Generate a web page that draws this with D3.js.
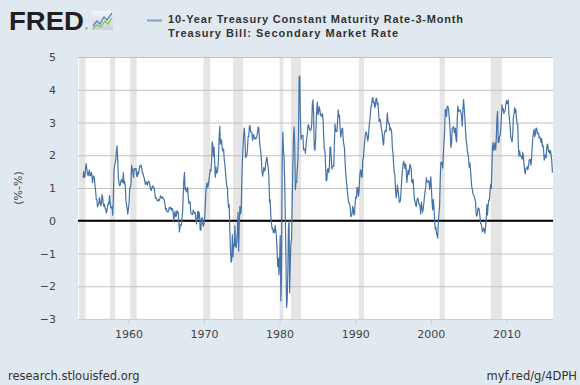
<!DOCTYPE html>
<html>
<head>
<meta charset="utf-8">
<script src="https://cdn.jsdelivr.net/npm/d3@7"></script>
<style>
  body { margin: 0; background: #e1e9f0; }
  svg { display: block; }
</style>
</head>
<body>
<div id="chart-area"></div>
<script>
// monthly values, first month = Jan 1954
const firstMonth = "1954-01"
const spread = [
  1.30, 1.50, 1.34, 1.33, 1.61, 1.74, 1.58, 1.44, 1.37, 1.45, 1.55, 1.37, // 1954
  1.38, 1.48, 1.40, 1.16, 1.31, 1.37, 1.30, 1.07, 0.90, 0.65, 0.65, 0.42,
  0.49, 0.52, 0.71, 0.58, 0.46, 0.51, 0.80, 0.73, 0.54, 0.44, 0.50, 0.38,
  0.35, 0.24, 0.33, 0.42, 0.54, 0.51, 0.77, 0.56, 0.39, 0.39, 0.43, 0.17,
  0.65, 1.51, 1.68, 1.75, 1.86, 2.14, 2.29, 1.85, 1.32, 1.17, 1.07, 1.09,
  1.20, 1.26, 1.19, 1.17, 1.47, 1.13, 1.20, 1.05, 0.64, 0.48, 0.38, 0.20,
  0.37, 0.53, 0.94, 1.05, 1.06, 1.69, 1.60, 1.50, 1.32, 1.59, 1.56, 1.59, // 1960
  1.60, 1.36, 1.35, 1.49, 1.42, 1.55, 1.68, 1.65, 1.70, 1.62, 1.46, 1.46,
  1.36, 1.31, 1.21, 1.11, 1.18, 1.18, 1.09, 1.16, 1.20, 1.19, 1.09, 0.99,
  0.92, 1.00, 1.04, 1.07, 1.00, 1.00, 0.84, 0.68, 0.70, 0.66, 0.60, 0.61,
  0.65, 0.62, 0.68, 0.76, 0.72, 0.69, 0.73, 0.69, 0.67, 0.62, 0.51, 0.34,
  0.38, 0.28, 0.28, 0.27, 0.32, 0.41, 0.36, 0.41, 0.37, 0.32, 0.37, 0.26,
  0.01, 0.18, 0.29, 0.13, 0.14, 0.31, 0.24, 0.27, 0.01, -0.34, -0.16, -0.12,
  -0.14, 0.07, 0.28, 0.75, 1.25, 1.48, 0.95, 1.01, 0.88, 0.92, 1.02, 0.73,
  0.53, 0.58, 0.57, 0.26, 0.21, 0.20, 0.19, 0.33, 0.27, 0.23, 0.25, 0.07,
  -0.10, 0.07, 0.28, 0.06, 0.28, 0.13, -0.28, -0.29, 0.07, 0.10, -0.10, -0.17,
  -0.08, 0.11, 0.44, 0.88, 1.07, 1.16, 1.01, 1.12, 1.27, 1.42, 1.56, 1.52, // 1970
  1.80, 2.41, 2.32, 1.97, 2.25, 1.77, 1.33, 1.64, 1.45, 1.47, 1.59, 1.92,
  2.57, 2.88, 2.34, 2.48, 2.44, 2.20, 2.13, 2.19, 1.89, 1.74, 1.50, 1.29,
  1.05, 1.04, 0.62, 0.41, 0.49, -0.29, -0.88, -1.27, -1.20, -0.43, -1.10, -0.71,
  -0.78, -0.16, -0.75, -0.82, -0.65, -0.36, 0.26, -0.92, -0.02, 0.44, 0.21, 0.28,
  1.24, 1.89, 2.24, 2.62, 2.83, 2.52, 1.93, 1.96, 2.01, 2.18, 2.57, 2.56,
  2.87, 2.91, 2.73, 2.70, 2.70, 2.45, 2.60, 2.63, 2.51, 2.49, 2.54, 2.52,
  2.59, 2.72, 2.86, 2.83, 2.50, 2.26, 2.14, 1.91, 1.53, 1.36, 1.48, 1.62,
  1.52, 1.58, 1.75, 1.86, 1.94, 1.73, 1.63, 1.33, 0.57, 0.65, 0.17, -0.07,
  -0.25, -0.22, -0.36, -0.28, -0.36, -0.15, -0.29, -0.49, -0.93, -1.40, -1.14, -1.65,
  -1.20, -0.45, -2.45, -1.73, 1.60, 2.71, 2.19, 1.97, 1.24, 0.13, -1.05, -2.65, // 1980
  -2.45, -1.60, -0.24, -0.01, -2.20, -1.26, -0.67, -0.57, 0.62, 1.61, 2.53, 2.87,
  2.31, 0.95, 1.18, 1.17, 1.53, 1.83, 2.60, 4.38, 4.42, 3.20, 2.48, 2.60,
  2.60, 2.61, 2.16, 2.19, 2.19, 2.06, 2.30, 2.51, 2.65, 2.90, 2.93, 2.83,
  2.77, 2.75, 2.80, 2.94, 3.58, 3.69, 3.24, 2.25, 2.15, 2.42, 2.96, 3.44,
  3.62, 3.24, 3.34, 3.48, 3.37, 3.21, 3.23, 3.19, 3.27, 3.08, 2.54, 2.16,
  2.12, 1.64, 1.22, 1.24, 1.56, 1.59, 1.47, 1.64, 2.24, 2.25, 1.90, 1.58,
  1.65, 1.66, 1.66, 2.38, 2.95, 2.73, 2.76, 2.72, 3.02, 3.39, 3.17, 3.22,
  2.86, 2.55, 2.67, 2.81, 2.83, 2.46, 2.33, 2.20, 1.74, 1.45, 1.20, 1.04,
  0.82, 0.64, 0.54, 0.53, 0.43, 0.13, 0.14, 0.21, 0.44, 0.37, 0.18, 0.21,
  0.57, 0.73, 0.69, 1.02, 1.02, 0.75, 0.85, 1.30, 1.53, 1.55, 1.33, 1.34, // 1990
  1.87, 1.91, 2.20, 2.39, 2.61, 2.71, 2.69, 2.57, 2.43, 2.54, 2.86, 3.02,
  3.23, 3.50, 3.50, 3.73, 3.76, 3.60, 3.63, 3.46, 3.51, 3.73, 3.74, 3.55,
  3.60, 3.33, 3.03, 3.10, 3.08, 2.89, 2.77, 2.66, 2.41, 2.31, 2.62, 2.71,
  2.77, 2.72, 2.98, 3.29, 3.04, 2.96, 2.97, 2.76, 2.84, 2.79, 2.67, 2.21,
  2.07, 1.70, 1.47, 1.41, 0.96, 0.70, 0.86, 1.09, 0.92, 0.76, 0.57, 0.57,
  0.65, 0.98, 1.31, 1.56, 1.72, 1.82, 1.72, 1.59, 1.74, 1.54, 1.17, 1.39,
  1.55, 1.41, 1.55, 1.73, 1.66, 1.56, 1.17, 1.16, 1.26, 0.91, 0.67, 0.58,
  0.47, 0.44, 0.62, 0.69, 0.65, 0.52, 0.50, 0.44, 0.20, 0.57, 0.42, 0.26,
  0.38, 0.55, 0.75, 0.90, 1.03, 1.31, 1.19, 1.18, 1.19, 1.23, 0.96, 1.08,
  1.34, 0.97, 0.57, 0.33, 0.65, 0.41, 0.09, -0.26, -0.20, -0.37, -0.45, -0.53, // 2000
  0.01, 0.22, 0.47, 1.27, 1.77, 1.79, 1.73, 1.61, 2.09, 2.41, 2.78, 3.40,
  3.39, 3.18, 3.49, 3.49, 3.43, 3.23, 2.97, 2.64, 2.24, 2.36, 2.82, 2.84,
  2.88, 2.73, 2.68, 2.83, 2.50, 2.41, 3.08, 3.50, 3.33, 3.37, 3.37, 3.37,
  3.27, 3.15, 2.89, 3.41, 3.70, 3.46, 3.17, 2.80, 2.48, 2.34, 2.12, 2.04,
  1.89, 1.63, 1.76, 1.56, 1.30, 1.03, 0.96, 0.82, 0.78, 0.75, 0.66, 0.58,
  0.18, 0.14, 0.21, 0.39, 0.39, 0.32, 0.14, -0.08, -0.09, -0.19, -0.34, -0.29,
  -0.22, -0.31, -0.38, -0.18, 0.02, 0.49, 0.18, 0.47, 0.63, 0.63, 0.88, 1.10,
  0.99, 1.62, 2.25, 2.39, 2.15, 2.24, 2.38, 2.17, 2.56, 3.14, 3.34, 2.39,
  2.39, 2.57, 2.61, 2.77, 3.11, 3.54, 3.38, 3.42, 3.28, 3.32, 3.35, 3.54,
  3.67, 3.58, 3.58, 3.69, 3.26, 3.08, 2.85, 2.54, 2.50, 2.41, 2.62, 3.15, // 2010
  3.24, 3.45, 3.31, 3.40, 3.13, 2.96, 2.96, 2.28, 1.97, 2.13, 2.00, 1.97,
  1.94, 1.88, 2.09, 1.97, 1.71, 1.53, 1.43, 1.58, 1.61, 1.65, 1.56, 1.65,
  1.84, 1.88, 1.87, 1.70, 1.89, 2.25, 2.54, 2.70, 2.79, 2.57, 2.65, 2.83,
  2.82, 2.66, 2.67, 2.68, 2.53, 2.56, 2.51, 2.39, 2.51, 2.28, 2.31, 2.18,
  1.85, 1.96, 2.01, 1.92, 2.18, 2.34, 2.29, 2.10, 2.15, 2.05, 2.14, 2.01,
  1.83, 1.47 // 2016
]

// recession periods (peak month, trough month)
const recessions = [
  ["1953-07", "1954-05"], ["1957-08", "1958-04"], ["1960-04", "1961-02"],
  ["1969-12", "1970-11"], ["1973-11", "1975-03"], ["1980-01", "1980-07"],
  ["1981-07", "1982-11"], ["1990-07", "1991-03"], ["2001-03", "2001-11"],
  ["2007-12", "2009-06"]
]

const yTicks = [-3, -2, -1, 0, 1, 2, 3, 4, 5]
const xTickYears = [1960, 1970, 1980, 1990, 2000, 2010]

const seriesTitle = ["10-Year Treasury Constant Maturity Rate-3-Month", "Treasury Bill: Secondary Market Rate"]

const W = 580, H = 385
const margin = { left: 78, top: 57, right: 27, bottom: 66 }
const width = W - margin.left - margin.right
const height = H - margin.top - margin.bottom

const parseMonth = d3.timeParse("%Y-%m")
const start = parseMonth(firstMonth)
const data = spread.map((v, i) => ({ date: d3.timeMonth.offset(start, i), value: v }))

const svg = d3.select("#chart-area").append("svg")
  .attr('width', W)
  .attr('height', H)

svg.append('rect')
  .attr('width', W).attr('height', H)
  .attr('fill', '#e1e9f0')

// logo
const logo = svg.append('g')
logo.append('text')
  .attr('x', 9).attr('y', 30)
  .attr('font-family', 'Liberation Sans, Arial, sans-serif')
  .attr('font-weight', 'bold')
  .attr('font-size', '25px')
  .attr('textLength', 75)
  .attr('lengthAdjust', 'spacingAndGlyphs')
  .attr('fill', '#231f20')
  .text('FRED')
logo.append('text')
  .attr('x', 85).attr('y', 30)
  .attr('font-family', 'Liberation Sans, Arial, sans-serif')
  .attr('font-size', '4px')
  .attr('fill', '#231f20')
  .text('®')
const grad = svg.append('defs').append('linearGradient')
  .attr('id', 'logoGrad').attr('x1', 0).attr('y1', 0).attr('x2', 0).attr('y2', 1)
grad.append('stop').attr('offset', '0%').attr('stop-color', '#f4f6f8')
grad.append('stop').attr('offset', '100%').attr('stop-color', '#c9d0d6')
logo.append('rect')
  .attr('x', 92).attr('y', 11).attr('width', 21).attr('height', 19)
  .attr('fill', 'url(#logoGrad)')
logo.append('polyline')
  .attr('points', '93,26 97,21 100,24 104,17 107,20 112,13')
  .attr('fill', 'none').attr('stroke', '#4a86c8').attr('stroke-width', 1.3)
logo.append('polyline')
  .attr('points', '93,29 97,25 101,27 105,21 108,24 112,18')
  .attr('fill', 'none').attr('stroke', '#8fbf3f').attr('stroke-width', 1.3)

// legend
svg.append('line')
  .attr('x1', 147).attr('x2', 162)
  .attr('y1', 20.5).attr('y2', 20.5)
  .attr('stroke', '#7e9ecb')
  .attr('stroke-width', 2)

const legendWidths = [295, 230]
seriesTitle.forEach((t, i) => {
  svg.append('text')
    .attr('x', 168)
    .attr('y', 22.5 + i * 14)
    .attr('font-family', 'Liberation Sans, Arial, sans-serif')
    .attr('font-weight', 'bold')
    .attr('font-size', '11px')
    .attr('fill', '#333')
    .attr('textLength', legendWidths[i])
    .attr('lengthAdjust', 'spacing')
    .text(t)
})

const g = svg.append('g')
  .attr('transform', `translate(${margin.left},${margin.top})`)

const x = d3.scaleTime()
  .domain([new Date(1953, 4, 1), new Date(2016, 2, 1)])
  .range([0, width])

const y = d3.scaleLinear()
  .domain([-3, 5])
  .range([height, 0])

g.append('rect')
  .attr('width', width).attr('height', height)
  .attr('fill', '#fff')

// recession shading
g.selectAll('rect.recession').data(recessions)
  .enter().append('rect')
  .attr('class', 'recession')
  .attr('x', d => x(parseMonth(d[0])))
  .attr('width', d => x(parseMonth(d[1])) - x(parseMonth(d[0])))
  .attr('y', 0)
  .attr('height', height)
  .attr('fill', '#e5e5e5')

// grid + y axis
const axisLeft = d3.axisLeft(y).tickValues(yTicks).tickSize(-width).tickPadding(22)
const yAxis = g.append('g')
  .attr('class', 'y-axis')
  .call(axisLeft)
yAxis.select('.domain').remove()
yAxis.selectAll('.tick line')
  .attr('stroke', d => d === -3 ? 'none' : '#c0c0c0')
yAxis.selectAll('.tick text')
  .attr('font-family', 'DejaVu Sans, sans-serif')
  .attr('font-size', '11px')
  .attr('fill', '#444')

// x axis
const axisBottom = d3.axisBottom(x)
  .tickValues(xTickYears.map(yr => new Date(yr, 0, 1)))
  .tickFormat(d3.timeFormat('%Y'))
  .tickSize(6)
  .tickPadding(5)
const xAxis = g.append('g')
  .attr('class', 'x-axis')
  .attr('transform', `translate(0, ${height})`)
  .call(axisBottom)
xAxis.select('.domain').attr('stroke', '#c3d1df').attr('d', `M0,0.5H${width}`)
xAxis.selectAll('.tick line').attr('stroke', '#c3d1df')
xAxis.selectAll('.tick text')
  .attr('font-family', 'DejaVu Sans, sans-serif')
  .attr('font-size', '11px')
  .attr('fill', '#444')

// zero line
g.append('line')
  .attr('x1', 0).attr('x2', width)
  .attr('y1', y(0)).attr('y2', y(0))
  .attr('stroke', '#000')
  .attr('stroke-width', 2)

// series
const line = d3.line()
  .x(d => x(d.date))
  .y(d => y(d.value))

g.append('path')
  .datum(data)
  .attr('d', line)
  .attr('fill', 'none')
  .attr('stroke', '#4572a7')
  .attr('stroke-width', 1.2)
  .attr('stroke-linejoin', 'round')

// y label
svg.append('text')
  .attr('transform', 'translate(22,188) rotate(-90)')
  .attr('text-anchor', 'middle')
  .attr('font-family', 'DejaVu Sans, sans-serif')
  .attr('font-size', '11px')
  .attr('fill', '#444')
  .text('(%-%)')

// footer
svg.append('text')
  .attr('x', 8).attr('y', 380)
  .attr('font-family', 'DejaVu Sans, sans-serif')
  .attr('font-size', '11.5px')
  .attr('fill', '#333')
  .text('research.stlouisfed.org')

svg.append('text')
  .attr('x', 577).attr('y', 380)
  .attr('text-anchor', 'end')
  .attr('font-family', 'DejaVu Sans, sans-serif')
  .attr('font-size', '11.5px')
  .attr('fill', '#333')
  .text('myf.red/g/4DPH')
</script>
</body>
</html>
